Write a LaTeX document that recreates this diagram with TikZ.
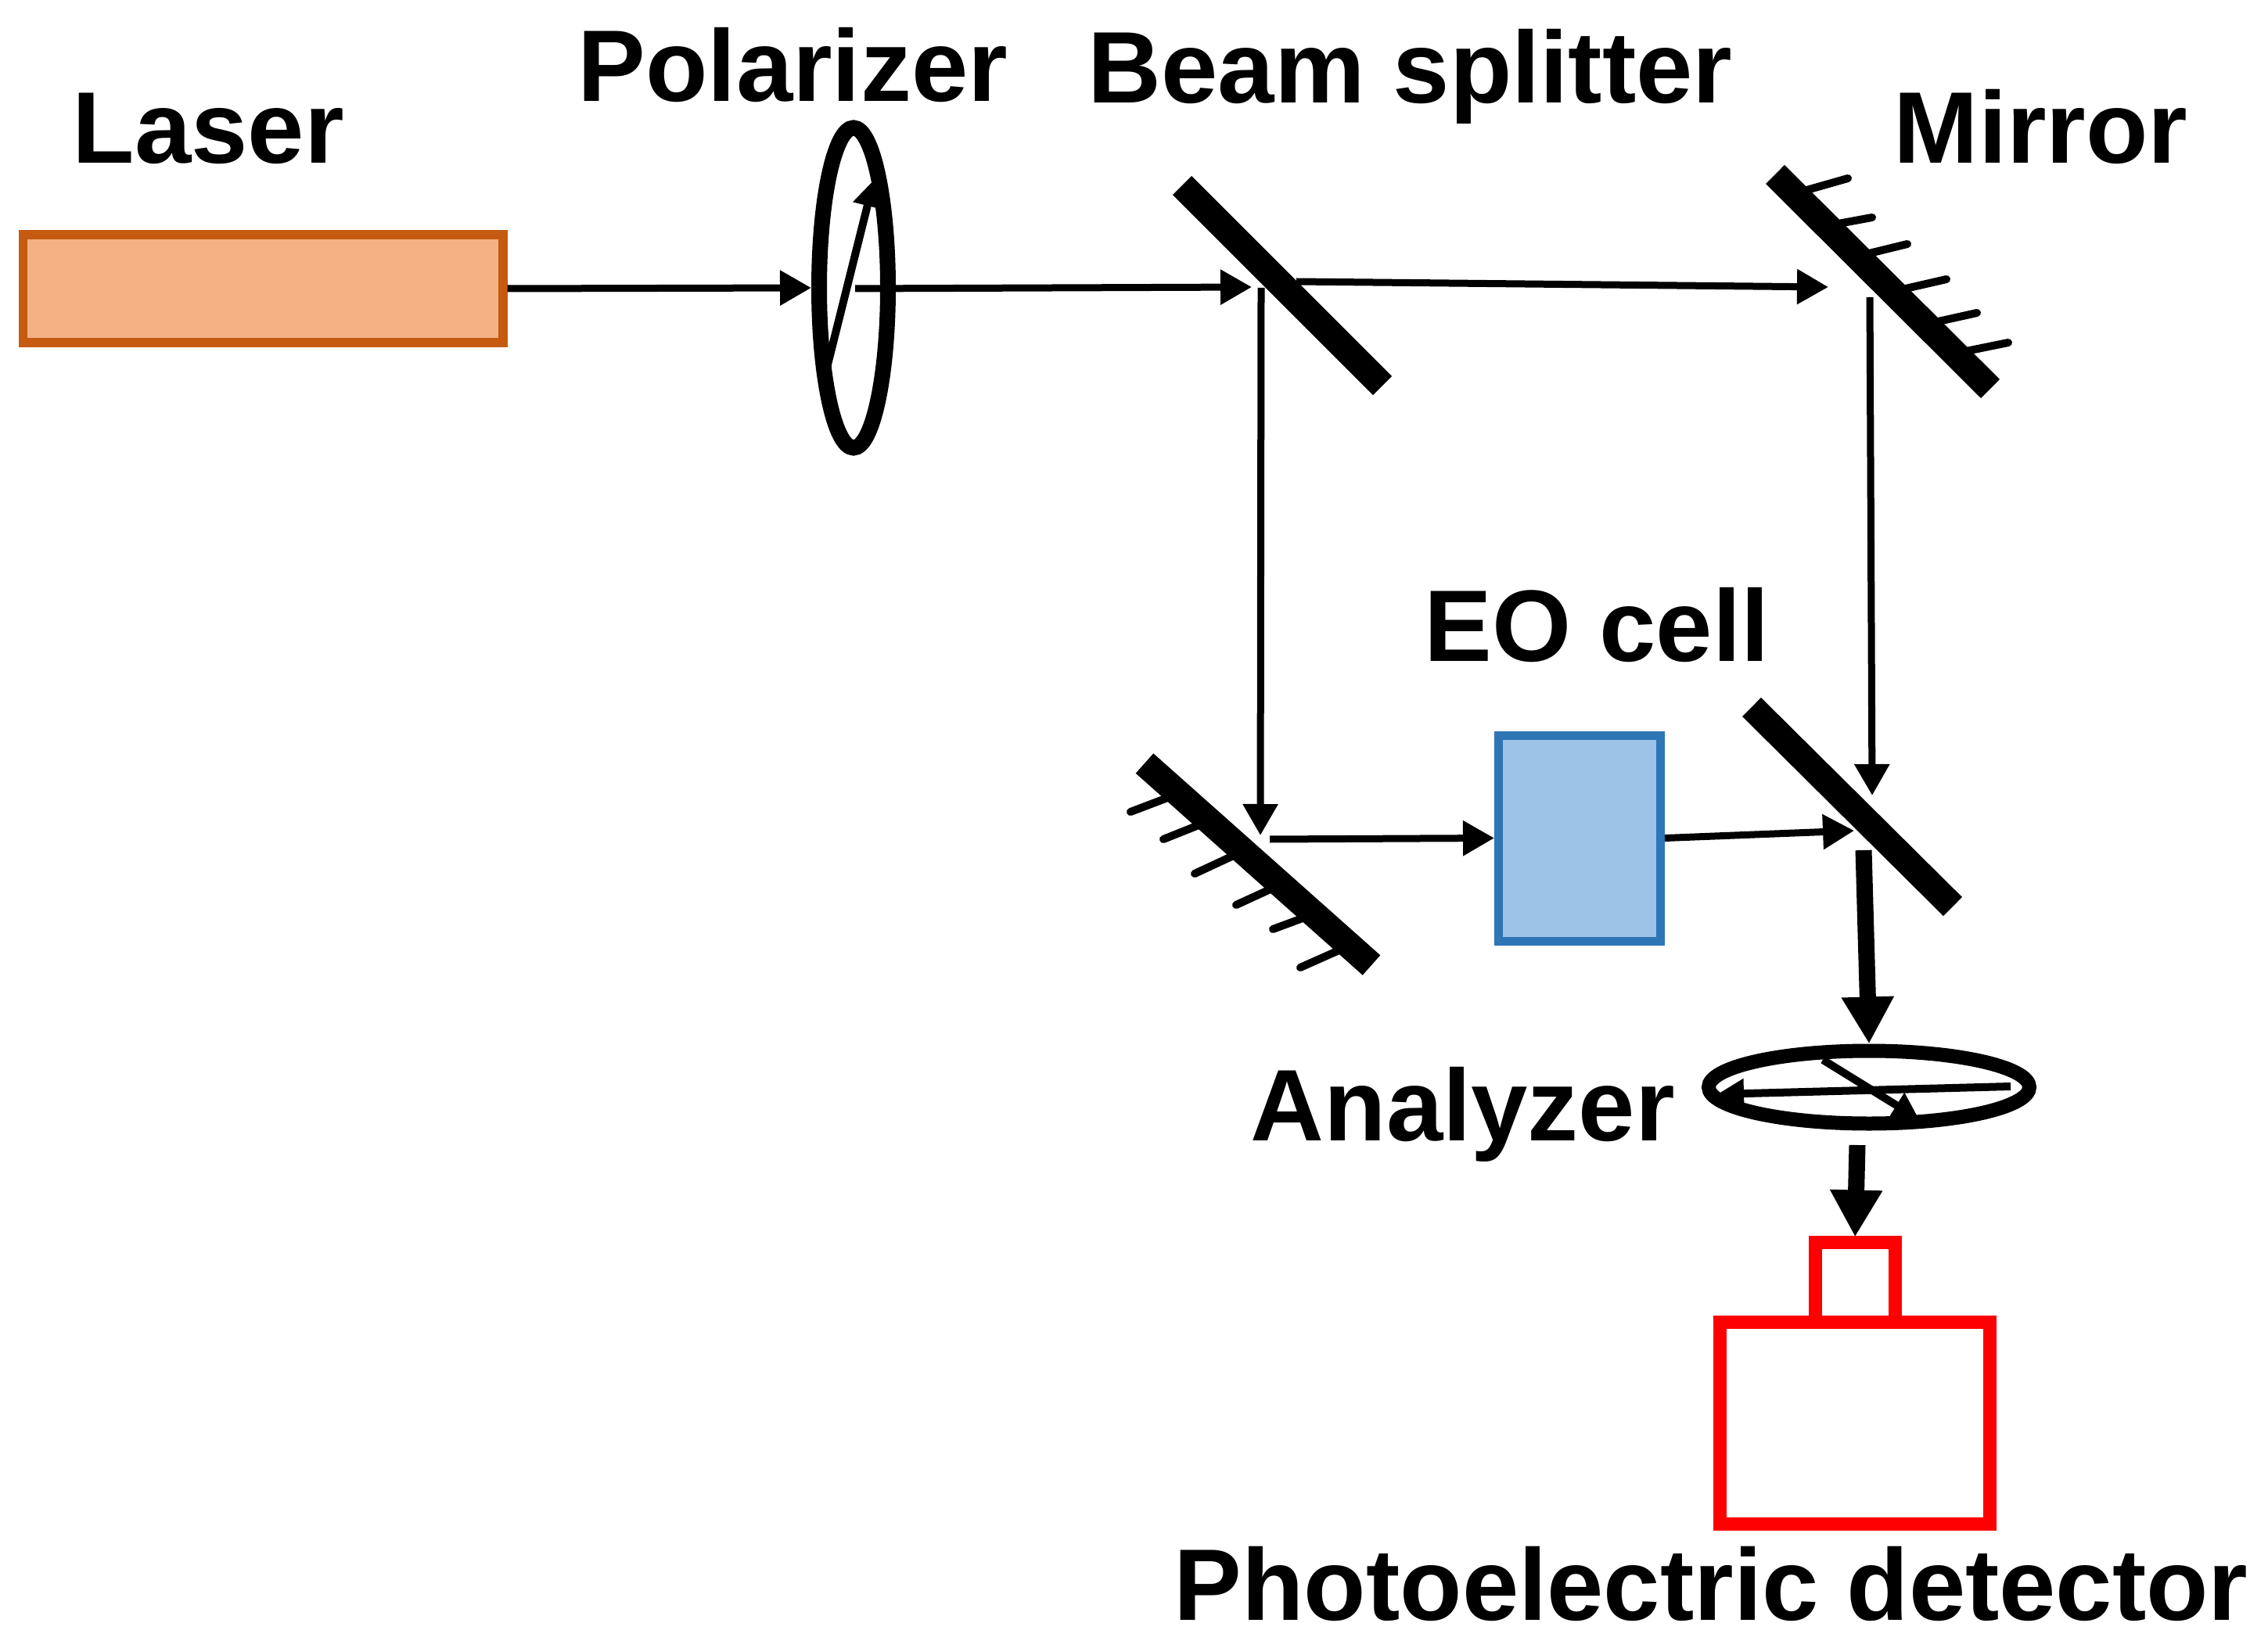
\documentclass[tikz,border=0pt]{standalone}
\usepackage{fontspec}
\setmainfont{Liberation Sans}
\usetikzlibrary{arrows.meta,shapes.geometric}
\definecolor{laserfill}{RGB}{244,177,131}
\definecolor{laserline}{RGB}{197,90,17}
\definecolor{cellfill}{RGB}{157,195,230}
\definecolor{cellline}{RGB}{46,117,182}
\tikzset{>={Triangle[length=0.4cm,width=0.43cm]}}
\tikzset{
  beam/.style={line width=0.09cm, ->},
  bigbeam/.style={line width=0.21cm, -{Triangle[length=0.6cm,width=0.63cm]}},
  inbeam/.style={line width=0.1cm, -{Triangle[length=0.34cm,width=0.36cm]}},
  mirrorbar/.style={line width=0.34cm},
  hatch/.style={line width=0.1cm, line cap=round, shorten <=-0.12cm},
  lens/.style={ellipse, draw=black, inner sep=0pt},
  detbox/.style={draw=red, line width=0.17cm, inner sep=0pt, outer sep=0pt},
  textlabel/.style={font=\fontsize{37pt}{37pt}\selectfont\bfseries, inner sep=0pt, anchor=base west}
}
\begin{document}
\begin{tikzpicture}
\useasboundingbox (0,0) rectangle (28.99,21.06);

\node[draw=laserline, fill=laserfill, line width=0.12cm, minimum width=6.13cm, minimum height=1.38cm, inner sep=0pt] (laser) at (3.36,17.37) {};
\node[draw=cellline, fill=cellfill, line width=0.11cm, minimum width=2.07cm, minimum height=2.63cm, inner sep=0pt] (cell) at (20.19,10.345) {};
\node[lens, line width=0.2cm, minimum width=0.88cm, minimum height=4.09cm] (polarizer) at (10.91,17.38) {};
\node[lens, line width=0.18cm, minimum width=4.1cm, minimum height=0.93cm] (analyzer) at (23.89,7.16) {};
\node[detbox, minimum width=3.45cm, minimum height=2.58cm] (body) at (23.71,2.865) {};
\node[detbox, minimum width=1.02cm, minimum height=1.02cm, anchor=south] (head) at (body.north) {};

% bars
\coordinate (split1a) at (15.11,18.69);
\coordinate (split1b) at (17.67,16.13);
\coordinate (split2a) at (22.39,12.02);
\coordinate (split2b) at (24.96,9.47);
\coordinate (mirror1a) at (22.69,18.83);
\coordinate (mirror1b) at (25.44,16.09);
\coordinate (mirror2a) at (14.63,11.3);
\coordinate (mirror2b) at (17.53,8.72);
\draw[mirrorbar] (split1a) -- (split1b);
\draw[mirrorbar] (split2a) -- (split2b);
\draw[mirrorbar] (mirror1a) -- (mirror1b);
\draw[mirrorbar] (mirror2a) -- (mirror2b);

% hatching on the mirrors
\foreach \xa/\ya/\xb/\yb in {23.13/18.64/23.62/18.78, 23.55/18.21/23.93/18.28, 23.93/17.83/24.38/17.94, 24.40/17.38/24.88/17.49, 24.82/16.96/25.27/17.06, 25.18/16.58/25.67/16.68}
  \draw[hatch] (\xa,\ya) -- (\xb,\yb);
\foreach \xa/\ya/\xb/\yb in {14.87/10.84/14.45/10.68, 15.27/10.49/14.87/10.33, 15.70/10.09/15.27/9.89, 16.17/9.66/15.80/9.49, 16.62/9.31/16.27/9.18, 17.07/8.89/16.62/8.69}
  \draw[hatch] (\xa,\ya) -- (\xb,\yb);

% beams
\coordinate (polout) at (10.93,17.37);
\coordinate (s1in) at (16.0,17.39);
\coordinate (s1out) at (16.57,17.46);
\coordinate (m1in) at (23.37,17.39);
\coordinate (m1out) at (23.90,17.26);
\coordinate (s2top) at (23.93,10.89);
\coordinate (s1down) at (16.12,17.38);
\coordinate (m2top) at (16.11,10.38);
\coordinate (m2out) at (16.23,10.33);
\coordinate (s2in) at (23.70,10.44);
\draw[beam] (laser.east) -- (polarizer.west);
\draw[beam] (polout) -- (s1in);
\draw[beam] (s1out) -- (m1in);
\draw[beam] (m1out) -- (s2top);
\draw[beam] (s1down) -- (m2top);
\draw[beam] (m2out) -- (cell.west);
\draw[beam] (cell.east) -- (s2in);

% polarizer arrow
\coordinate (ptail) at (10.57,16.36);
\coordinate (ptip) at (11.17,18.76);
\draw[inbeam] (ptail) -- (ptip);

% analyzer arrows
\coordinate (atail1) at (25.70,7.17);
\coordinate (atip1) at (21.95,7.07);
\coordinate (atail2) at (23.30,7.51);
\coordinate (atip2) at (24.53,6.75);
\draw[inbeam] (atail1) -- (atip1);
\draw[inbeam] (atail2) -- (atip2);

% out to the detector
\coordinate (s2out) at (23.82,10.19);
\coordinate (aout) at (23.74,6.42);
\draw[bigbeam] (s2out) -- (analyzer.north);
\draw[bigbeam, shorten >=0.07cm] (aout) -- (head.north);

\node[textlabel] (tlaser) at (0.92,18.97) {Laser};
\node[textlabel] (tpolarizer) at (7.38,19.76) {Polarizer};
\node[textlabel] (tsplitter) at (13.9,19.74) {Beam splitter};
\node[textlabel] (tmirror) at (24.2,18.97) {Mirror};
\node[textlabel] (tcell) at (18.2,12.61) {EO cell};
\node[textlabel] (tanalyzer) at (15.98,6.48) {Analyzer};
\node[textlabel] (tdetector) at (15.0,0.35) {Photoelectric detector};
\end{tikzpicture}
\end{document}
